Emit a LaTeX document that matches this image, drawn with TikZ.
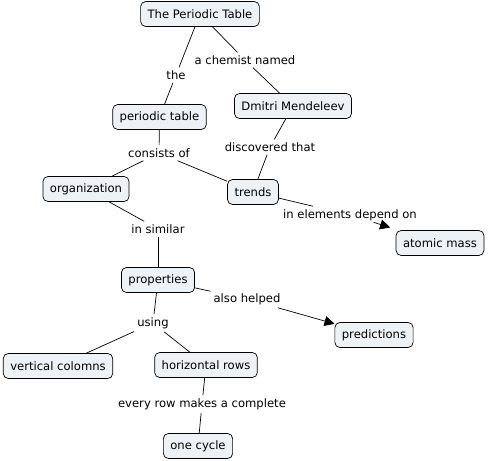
\documentclass[tikz,border=0pt]{standalone}
\usepackage{fontspec}
\setmainfont{DejaVu Sans}
\usetikzlibrary{arrows.meta}
\definecolor{cmapfill}{RGB}{236,242,245}

\begin{document}
\begin{tikzpicture}[x=1pt,y=-1pt,font=\fontsize{11.6}{13}\selectfont]
	\useasboundingbox (0,0) rectangle (488,461);
	\tikzstyle{concept}=[draw,fill=cmapfill,rounded corners=5pt,minimum height=25pt,inner xsep=7pt,line width=0.7pt]
	\tikzstyle{linkword}=[inner sep=3pt]
	\tikzstyle{EdgeStyle}=[line width=0.7pt]
	% concepts
	\node[concept] (table) at (200,14) {The Periodic Table};
	\node[concept] (ptable) at (159.5,117) {periodic table};
	\node[concept] (dmitri) at (293,106) {Dmitri Mendeleev};
	\node[concept] (organization) at (86,189) {organization};
	\node[concept] (trends) at (253,192) {trends};
	\node[concept] (atomic) at (440,243) {atomic mass};
	\node[concept] (properties) at (158,280) {properties};
	\node[concept] (predictions) at (374,335) {predictions};
	\node[concept] (vertical) at (58,366) {vertical colomns};
	\node[concept] (horizontal) at (206,365) {horizontal rows};
	\node[concept] (cycle) at (198,446) {one cycle};
	% linking words
	\node[linkword] (the) at (176,75) {the};
	\node[linkword] (chemist) at (245,60) {a chemist named};
	\node[linkword] (consists) at (159,153) {consists of};
	\node[linkword] (discovered) at (270,147) {discovered that};
	\node[linkword] (depend) at (350,215) {in elements depend on};
	\node[linkword] (similar) at (158,229) {in similar};
	\node[linkword] (helped) at (247,299) {also helped};
	\node[linkword] (using) at (153,323) {using};
	\node[linkword] (complete) at (202,404) {every row makes a complete};
	% connections
	\draw[EdgeStyle] (table) -- (the);
	\draw[EdgeStyle] (the) -- (ptable);
	\draw[EdgeStyle] (table) -- (chemist);
	\draw[EdgeStyle] (chemist) -- (dmitri);
	\draw[EdgeStyle] (ptable) -- (consists);
	\draw[EdgeStyle] (consists) -- (organization);
	\draw[EdgeStyle] (consists) -- (trends);
	\draw[EdgeStyle] (dmitri) -- (discovered);
	\draw[EdgeStyle] (discovered) -- (trends);
	\draw[EdgeStyle] (trends) -- (depend);
	\draw[EdgeStyle,-{Triangle[length=10pt,width=10pt]},shorten >=9pt,shorten <=-5pt] (depend) -- (atomic);
	\draw[EdgeStyle] (organization) -- (similar);
	\draw[EdgeStyle] (similar) -- (properties);
	\draw[EdgeStyle] (properties) -- (helped);
	\draw[EdgeStyle,-{Triangle[length=10pt,width=10pt]}] (helped) -- (predictions);
	\draw[EdgeStyle] (properties) -- (using);
	\draw[EdgeStyle] (using) -- (vertical);
	\draw[EdgeStyle] (using) -- (horizontal);
	\draw[EdgeStyle] (horizontal) -- (complete);
	\draw[EdgeStyle] (complete) -- (cycle);
\end{tikzpicture}
\end{document}
